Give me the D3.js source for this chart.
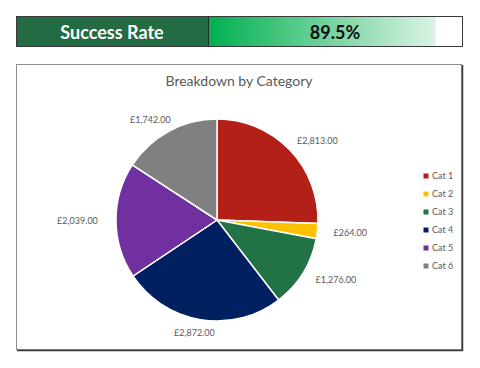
<!DOCTYPE html>
<html>
<head>
<meta charset="utf-8">
<script src="https://cdn.jsdelivr.net/npm/d3@7"></script>
<style>
  body { margin: 0; background: #fff; }
  text { font-family: Lato, "Open Sans", Arial, sans-serif; }
</style>
</head>
<body>
<div id="chart"></div>
<script>
// data
var categories = ["Cat 1", "Cat 2", "Cat 3", "Cat 4", "Cat 5", "Cat 6"];
var amounts    = [2813, 264, 1276, 2872, 2039, 1742];
var colours    = ["#b22018", "#ffc000", "#217346", "#002060", "#7030a0", "#808080"];
var successRate = 0.895;

var svg = d3.select("#chart").append("svg")
    .attr("width", 480)
    .attr("height", 368);

// gradient for the data bar
var defs = svg.append("defs");
var grad = defs.append("linearGradient").attr("id", "barGrad");
grad.append("stop").attr("offset", "0%").attr("stop-color", "#00b050");
grad.append("stop").attr("offset", "100%").attr("stop-color", "#dcf3e5");

// banner
var banner = svg.append("g");
banner.append("rect")
    .attr("x", 16).attr("y", 16).attr("width", 192).attr("height", 31)
    .attr("fill", "#236b42");
var barX = d3.scaleLinear().domain([0, 1]).range([209, 462]);
banner.append("rect")
    .attr("x", barX(0)).attr("y", 17)
    .attr("width", barX(successRate) - barX(0)).attr("height", 29)
    .attr("fill", "url(#barGrad)");
banner.append("rect")
    .attr("x", 16.5).attr("y", 16.5).attr("width", 446).attr("height", 30)
    .attr("fill", "none").attr("stroke", "#3a3a3a").attr("stroke-width", 1);
banner.append("line")
    .attr("x1", 208.5).attr("x2", 208.5).attr("y1", 16).attr("y2", 47)
    .attr("stroke", "#2a2a2a");
banner.append("text")
    .attr("x", 112).attr("y", 38.5)
    .attr("text-anchor", "middle")
    .attr("fill", "#ffffff")
    .attr("font-weight", "bold")
    .attr("font-size", 18)
    .text("Success Rate");
banner.append("text")
    .attr("x", 335).attr("y", 38.5)
    .attr("text-anchor", "middle")
    .attr("fill", "#111")
    .attr("font-weight", "bold")
    .attr("font-size", 18)
    .text(d3.format(".1%")(successRate));

// chart box
svg.append("rect")
    .attr("x", 16.5).attr("y", 64.5).attr("width", 445).attr("height", 285)
    .attr("fill", "#fff").attr("stroke", "#8c8c8c");
svg.append("path")
    .attr("d", "M17,350.5 H462.5 V65")
    .attr("fill", "none").attr("stroke", "#3c3c3c").attr("stroke-width", 1.5);

svg.append("text")
    .attr("x", 239).attr("y", 86)
    .attr("text-anchor", "middle")
    .attr("fill", "#595959")
    .attr("font-size", 14)
    .text("Breakdown by Category");

// pie
var cx = 217, cy = 220, radius = 101;
var pie = d3.pie().sort(null).value(function(d) { return d.value; });
var arc = d3.arc().innerRadius(0).outerRadius(radius);
var data = categories.map(function(c, i) {
    return { name: c, value: amounts[i], colour: colours[i] };
});
var group = svg.append("g").attr("transform", "translate(" + cx + "," + cy + ")");
var slices = group.selectAll(".arc")
    .data(pie(data))
    .enter().append("g")
    .attr("class", "arc");

slices.append("path")
    .attr("d", arc)
    .attr("fill", function(d) { return d.data.colour; })
    .attr("stroke", "#fff")
    .attr("stroke-width", 1.5);

var money = function(v) { return "£" + d3.format(",.2f")(v); };
slices.append("text")
    .attr("font-size", 9)
    .attr("fill", "#595959")
    .attr("text-anchor", "middle")
    .attr("dy", "0.35em")
    .text(function(d) { return money(d.data.value); })
    .attr("x", function(d) {
        var a = (d.startAngle + d.endAngle) / 2;
        var w = this.getComputedTextLength();
        return (radius + 8) * Math.sin(a) + Math.sin(a) * w / 2 * 1.5;
    })
    .attr("y", function(d) {
        var a = (d.startAngle + d.endAngle) / 2;
        return -(radius + 8) * Math.cos(a) - Math.cos(a) * 5;
    });

// legend
var legY = d3.scalePoint().domain(categories).range([176, 266]);
var legend = svg.append("g").selectAll("g")
    .data(data)
    .enter().append("g")
    .attr("transform", function(d) { return "translate(426," + legY(d.name) + ")"; });
legend.append("rect")
    .attr("x", -2.5).attr("y", -2.5).attr("width", 5).attr("height", 5)
    .attr("fill", function(d) { return d.colour; });
legend.append("text")
    .attr("x", 6).attr("dy", "0.35em")
    .attr("font-size", 9)
    .attr("fill", "#595959")
    .text(function(d) { return d.name; });
</script>
</body>
</html>
